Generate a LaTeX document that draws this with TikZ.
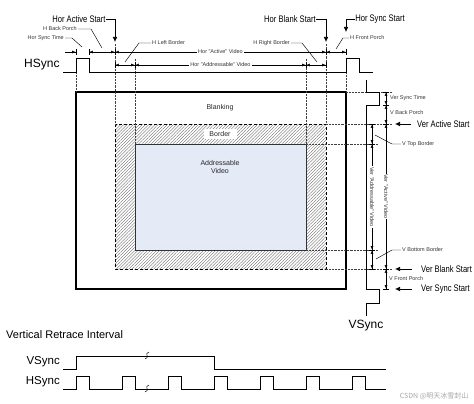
\documentclass[tikz,border=0pt]{standalone}
\usepackage{fontspec}
\setmainfont{Liberation Sans}
\newfontfamily\condfont[FakeStretch=0.8]{Liberation Sans}
\newfontfamily\cjkfont{Noto Sans CJK SC}
\usetikzlibrary{arrows.meta,patterns.meta}

\definecolor{vidblue}{RGB}{228,234,246}
\tikzset{
  dim/.style={{Bar[width=6pt]Latex[length=3.5pt,width=3pt]}-{Latex[length=3.5pt,width=3pt]Bar[width=6pt]},line width=0.45pt},
  dimend/.style={-{Latex[length=3.5pt,width=3pt]Bar[width=6pt]},line width=0.45pt},
  guide/.style={densely dotted,line width=0.45pt,black!75},
  leader/.style={line width=0.45pt},
  pointer/.style={line width=0.6pt,-{Latex[length=5pt,width=4.5pt]}},
  wave/.style={line width=0.9pt},
  smalllbl/.style={font=\fontsize{5.5}{6}\selectfont,text=black!80,inner sep=1pt},
  boxlbl/.style={font=\fontsize{7}{8}\selectfont,text=black!85,inner sep=1pt},
  biglbl/.style={font=\condfont\fontsize{9.5}{10}\selectfont,inner sep=0pt},
  siglbl/.style={font=\fontsize{12}{13}\selectfont,inner sep=0pt}
}

\begin{document}
\begin{tikzpicture}[x=1pt,y=-1pt]
    \useasboundingbox (0,0) rectangle (474,404);
    % the frame: blanking, border and video areas
    \draw[line width=1.5pt] (76,92) rectangle (346,289);
    \fill[pattern={Lines[angle=45,distance=2.2pt,line width=0.35pt]},pattern color=black!60] (115,124) rectangle (326,269);
    \draw[densely dashed,line width=0.6pt] (115,124) rectangle (326,269);
    \draw[fill=vidblue,line width=0.8pt,draw=black!80] (135,144) rectangle (306,250);
    \node[boxlbl] (blanking) at (220,108) {Blanking};
    \node[boxlbl,fill=white,minimum width=33pt,minimum height=10pt] (border) at (220,134) {Border};
    \node[boxlbl,align=center,font=\fontsize{7}{8}\selectfont] (addr) at (220,167) {Addressable\\Video};
    % dotted guides
    \draw[guide] (76,72) -- (76,92);
    \draw[guide] (115,44) -- (115,124);
    \draw[guide] (135,59) -- (135,144);
    \draw[guide] (306,59) -- (306,144);
    \draw[guide] (326,44) -- (326,124);
    \draw[guide] (346,72) -- (346,92);
    \draw[guide] (346,92) -- (392,92);
    \draw[guide] (326,124) -- (392,124);
    \draw[guide] (306,144) -- (378,144);
    \draw[guide] (306,250) -- (378,250);
    \draw[guide] (326,269) -- (392,269);
    % sync waveforms of the frame
    \draw[wave] (63,72) -- (76,72) -- (76,58) -- (89,58) -- (89,72) -- (346,72) -- (346,58) -- (359,58) -- (359,72) -- (373,72);
    \draw[wave] (366,80) -- (366,92) -- (379,92) -- (379,105) -- (366,105) -- (366,289) -- (379,289) -- (379,303) -- (366,303) -- (366,316);
    \node[siglbl,anchor=west] (hsync) at (24,65) {HSync};
    \node[siglbl] (vsync) at (366,326) {VSync};
    % horizontal timing
    \draw[dimend] (65,52) -- (76,52);
    \draw[dim] (89,52) -- (115,52);
    \draw[dim] (115,52) -- node[smalllbl,fill=white,pos=0.5] (hactv) {Hor "Active" Video} (326,52);
    \draw[dim] (326,52) -- (346,52);
    \draw[dim] (115,65) -- (135,65);
    \draw[dim] (135,65) -- node[smalllbl,fill=white,pos=0.5] (haddr) {Hor "Addressable" Video} (306,65);
    \draw[dim] (306,65) -- (326,65);
    % vertical timing
    \draw[dim] (386,92) -- (386,105);
    \draw[dim] (386,105) -- (386,124);
    \draw[dim] (386,124) -- node[smalllbl,fill=white,rotate=-90] (vactv) {Ver "Active" Video} (386,269);
    \draw[dim] (386,269) -- (386,289);
    \draw[dim] (372,124) -- (372,144);
    \draw[dim] (372,144) -- node[smalllbl,fill=white,rotate=-90] (vaddr) {Ver "Addressable" Video} (372,250);
    \draw[dim] (372,250) -- (372,269);
    % small labels with leaders
    \node[smalllbl,anchor=east] (hsynct) at (65,38) {Hor Sync Time};
    \draw[leader] (hsynct.east) -- (72,38) -- (82,47);
    \node[smalllbl,anchor=east] (hbp) at (78,29) {H Back Porch};
    \draw[leader] (hbp.east) -- (91,29) -- (102,48);
    \node[smalllbl,anchor=west] (hlb) at (151,43) {H Left Border};
    \draw[leader] (hlb.west) -- (139,43) -- (125,62);
    \node[smalllbl,anchor=east] (hrb) at (291,43) {H Right Border};
    \draw[leader] (hrb.east) -- (302,43) -- (317,62);
    \node[smalllbl,anchor=west] (hfp) at (349,38) {H Front Porch};
    \draw[leader] (hfp.west) -- (343,38) -- (336,49);
    \node[smalllbl,anchor=west] (vsynct) at (389,98) {Ver Sync Time};
    \node[smalllbl,anchor=west] (vbp) at (389,113) {V Back Porch};
    \node[smalllbl,anchor=west] (vtb) at (401,144) {V Top Border};
    \draw[leader] (vtb.west) -- (392,144) -- (375,135);
    \node[smalllbl,anchor=west] (vbb) at (401,250) {V Bottom Border};
    \draw[leader] (vbb.west) -- (392,250) -- (376,259);
    \node[smalllbl,anchor=west] (vfp) at (388,279) {V Front Porch};
    % start markers
    \node[biglbl] (hactstart) at (79,19) {Hor Active Start};
    \draw[pointer] (hactstart.east) -- (115,19) -- (115,42);
    \node[biglbl] (hblkstart) at (290,19) {Hor Blank Start};
    \draw[pointer] (hblkstart.east) -- (326,19) -- (326,42);
    \node[biglbl] (hsyncstart) at (380,19) {Hor Sync Start};
    \draw[pointer] (hsyncstart.west) -- (346,19) -- (346,32);
    \node[biglbl,anchor=west] (vactstart) at (417,124) {Ver Active Start};
    \draw[pointer] (vactstart.west) ++(-6,0) -- (395,124);
    \node[biglbl,anchor=west] (vblkstart) at (421,269) {Ver Blank Start};
    \draw[pointer] (vblkstart.west) ++(-9,0) -- (395,269);
    \node[biglbl,anchor=west] (vsyncstart) at (421,289) {Ver Sync Start};
    \draw[pointer] (vsyncstart.west) ++(-9,0) -- (395,289);
    % vertical retrace interval
    \node[font=\fontsize{11}{12}\selectfont,anchor=west,inner sep=0pt] (vri) at (6,335) {Vertical Retrace Interval};
    \node[siglbl,anchor=east,font=\fontsize{11.5}{12}\selectfont] (rvsync) at (60,362) {VSync};
    \node[siglbl,anchor=east,font=\fontsize{11.5}{12}\selectfont] (rhsync) at (60,382) {HSync};
    \draw[wave] (63,369) -- (76,369) -- (76,356) -- (214,356) -- (214,369) -- (386,369);
    \draw[wave] (63,389) foreach \x in {76,122,168,214,260,306,352} {-- (\x,389) -- (\x,376) -- (\x+13,376) -- (\x+13,389)} -- (386,389);
    \draw[line width=0.5pt] (145,359) .. controls (150,358) and (144,353) .. (149,352);
    \draw[line width=0.5pt] (145,392) .. controls (150,391) and (144,386) .. (149,385);
    \node[font=\cjkfont\fontsize{7}{8}\selectfont,text=black!35,anchor=east] (mark) at (472,396) {CSDN @明天冰雪封山};
\end{tikzpicture}
\end{document}
